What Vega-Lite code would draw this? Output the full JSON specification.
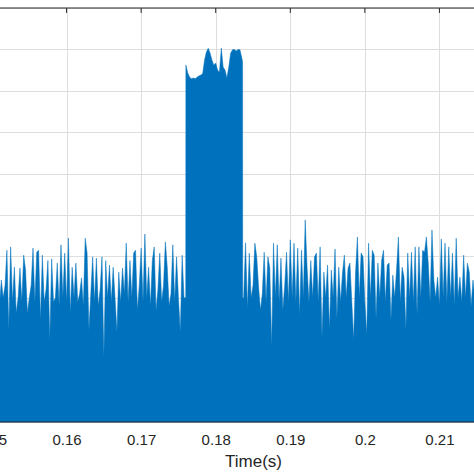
{
  "$schema": "https://vega.github.io/schema/vega-lite/v6.json",
  "width": 522,
  "height": 414,
  "autosize": "none",
  "padding": {"left": -8, "top": 8, "right": 0, "bottom": 52},
  "background": "white",
  "datasets": {
    "signal": [
      {"t":0.149,"v":0.30},{"t":0.14925,"v":0.38},{"t":0.1495,"v":0.29},{"t":0.14975,"v":0.41},
      {"t":0.15,"v":0.27},{"t":0.15025,"v":0.36},{"t":0.1505,"v":0.30},{"t":0.15075,"v":0.40},
      {"t":0.151,"v":0.28},{"t":0.15125,"v":0.343},{"t":0.1515,"v":0.30},{"t":0.15175,"v":0.33},
      {"t":0.152,"v":0.415},{"t":0.15225,"v":0.222},{"t":0.1525,"v":0.423},{"t":0.15275,"v":0.29},
      {"t":0.153,"v":0.374},{"t":0.15325,"v":0.263},{"t":0.1535,"v":0.30},{"t":0.15375,"v":0.372},
      {"t":0.154,"v":0.29},{"t":0.15425,"v":0.403},{"t":0.1545,"v":0.367},{"t":0.15475,"v":0.263},
      {"t":0.155,"v":0.30},{"t":0.15525,"v":0.33},{"t":0.1555,"v":0.42},{"t":0.15575,"v":0.29},
      {"t":0.156,"v":0.41},{"t":0.15625,"v":0.415},{"t":0.1565,"v":0.246},{"t":0.15675,"v":0.403},
      {"t":0.157,"v":0.29},{"t":0.15725,"v":0.32},{"t":0.1575,"v":0.39},{"t":0.15775,"v":0.198},
      {"t":0.158,"v":0.394},{"t":0.15825,"v":0.29},{"t":0.1585,"v":0.30},{"t":0.15875,"v":0.384},
      {"t":0.159,"v":0.28},{"t":0.15925,"v":0.428},{"t":0.1595,"v":0.30},{"t":0.15975,"v":0.408},
      {"t":0.16,"v":0.29},{"t":0.16025,"v":0.444},{"t":0.1605,"v":0.263},{"t":0.16075,"v":0.374},
      {"t":0.161,"v":0.30},{"t":0.16125,"v":0.384},{"t":0.1615,"v":0.29},{"t":0.16175,"v":0.31},
      {"t":0.162,"v":0.348},{"t":0.16225,"v":0.28},{"t":0.1625,"v":0.444},{"t":0.16275,"v":0.408},
      {"t":0.163,"v":0.222},{"t":0.16325,"v":0.31},{"t":0.1635,"v":0.399},{"t":0.16375,"v":0.29},
      {"t":0.164,"v":0.396},{"t":0.16425,"v":0.28},{"t":0.1645,"v":0.32},{"t":0.16475,"v":0.399},
      {"t":0.165,"v":0.157},{"t":0.16525,"v":0.39},{"t":0.1655,"v":0.30},{"t":0.16575,"v":0.379},
      {"t":0.166,"v":0.29},{"t":0.16625,"v":0.374},{"t":0.1665,"v":0.30},{"t":0.16675,"v":0.217},
      {"t":0.167,"v":0.362},{"t":0.16725,"v":0.29},{"t":0.1675,"v":0.372},{"t":0.16775,"v":0.31},
      {"t":0.168,"v":0.432},{"t":0.16825,"v":0.29},{"t":0.1685,"v":0.39},{"t":0.16875,"v":0.30},
      {"t":0.169,"v":0.408},{"t":0.16925,"v":0.415},{"t":0.1695,"v":0.27},{"t":0.16975,"v":0.33},
      {"t":0.17,"v":0.42},{"t":0.17025,"v":0.29},{"t":0.1705,"v":0.454},{"t":0.17075,"v":0.30},
      {"t":0.171,"v":0.374},{"t":0.17125,"v":0.28},{"t":0.1715,"v":0.39},{"t":0.17175,"v":0.423},
      {"t":0.172,"v":0.27},{"t":0.17225,"v":0.32},{"t":0.1725,"v":0.408},{"t":0.17275,"v":0.29},
      {"t":0.173,"v":0.33},{"t":0.17325,"v":0.435},{"t":0.1735,"v":0.374},{"t":0.17375,"v":0.28},
      {"t":0.174,"v":0.31},{"t":0.17425,"v":0.428},{"t":0.1745,"v":0.29},{"t":0.17475,"v":0.399},
      {"t":0.175,"v":0.30},{"t":0.17525,"v":0.217},{"t":0.1755,"v":0.403},{"t":0.17575,"v":0.30},
      {"t":0.17598,"v":0.30},
      {"t":0.176,"v":0.862},{"t":0.17625,"v":0.843},{"t":0.1765,"v":0.833},{"t":0.17675,"v":0.829},
      {"t":0.177,"v":0.831},{"t":0.17725,"v":0.829},{"t":0.1775,"v":0.833},{"t":0.17775,"v":0.836},
      {"t":0.178,"v":0.838},{"t":0.17825,"v":0.841},{"t":0.1785,"v":0.874},{"t":0.17875,"v":0.894},
      {"t":0.179,"v":0.903},{"t":0.17925,"v":0.891},{"t":0.1795,"v":0.874},{"t":0.17975,"v":0.862},
      {"t":0.18,"v":0.867},{"t":0.18025,"v":0.85},{"t":0.1805,"v":0.845},{"t":0.18075,"v":0.903},
      {"t":0.181,"v":0.857},{"t":0.18125,"v":0.85},{"t":0.1815,"v":0.831},{"t":0.18175,"v":0.857},
      {"t":0.182,"v":0.891},{"t":0.18225,"v":0.899},{"t":0.1825,"v":0.90},{"t":0.18275,"v":0.896},
      {"t":0.183,"v":0.90},{"t":0.18325,"v":0.899},{"t":0.1835,"v":0.879},{"t":0.1836,"v":0.87},
      {"t":0.18362,"v":0.30},
      {"t":0.18375,"v":0.30},{"t":0.184,"v":0.433},{"t":0.18425,"v":0.275},{"t":0.1845,"v":0.408},
      {"t":0.18475,"v":0.30},{"t":0.185,"v":0.33},{"t":0.18525,"v":0.432},{"t":0.1855,"v":0.399},
      {"t":0.18575,"v":0.326},{"t":0.186,"v":0.27},{"t":0.18625,"v":0.31},{"t":0.1865,"v":0.41},
      {"t":0.18675,"v":0.29},{"t":0.187,"v":0.399},{"t":0.18725,"v":0.372},{"t":0.1875,"v":0.181},
      {"t":0.18775,"v":0.432},{"t":0.188,"v":0.30},{"t":0.18825,"v":0.428},{"t":0.1885,"v":0.29},
      {"t":0.18875,"v":0.396},{"t":0.189,"v":0.27},{"t":0.18925,"v":0.33},{"t":0.1895,"v":0.41},
      {"t":0.18975,"v":0.29},{"t":0.19,"v":0.44},{"t":0.19025,"v":0.30},{"t":0.1905,"v":0.432},
      {"t":0.19075,"v":0.29},{"t":0.191,"v":0.42},{"t":0.19125,"v":0.258},{"t":0.1915,"v":0.415},
      {"t":0.19175,"v":0.30},{"t":0.192,"v":0.488},{"t":0.19225,"v":0.374},{"t":0.1925,"v":0.29},
      {"t":0.19275,"v":0.39},{"t":0.193,"v":0.30},{"t":0.19325,"v":0.399},{"t":0.1935,"v":0.408},
      {"t":0.19375,"v":0.29},{"t":0.194,"v":0.423},{"t":0.19425,"v":0.203},{"t":0.1945,"v":0.362},
      {"t":0.19475,"v":0.30},{"t":0.195,"v":0.379},{"t":0.19525,"v":0.222},{"t":0.1955,"v":0.367},
      {"t":0.19575,"v":0.30},{"t":0.196,"v":0.418},{"t":0.19625,"v":0.25},{"t":0.1965,"v":0.374},
      {"t":0.19675,"v":0.29},{"t":0.197,"v":0.36},{"t":0.19725,"v":0.403},{"t":0.1975,"v":0.30},
      {"t":0.19775,"v":0.372},{"t":0.198,"v":0.384},{"t":0.19825,"v":0.29},{"t":0.1985,"v":0.198},
      {"t":0.19875,"v":0.36},{"t":0.199,"v":0.447},{"t":0.19925,"v":0.30},{"t":0.1995,"v":0.408},
      {"t":0.19975,"v":0.399},{"t":0.2,"v":0.29},{"t":0.20025,"v":0.21},{"t":0.2005,"v":0.432},
      {"t":0.20075,"v":0.30},{"t":0.201,"v":0.415},{"t":0.20125,"v":0.403},{"t":0.2015,"v":0.25},
      {"t":0.20175,"v":0.384},{"t":0.202,"v":0.30},{"t":0.20225,"v":0.39},{"t":0.2025,"v":0.415},
      {"t":0.20275,"v":0.29},{"t":0.203,"v":0.379},{"t":0.20325,"v":0.384},{"t":0.2035,"v":0.246},
      {"t":0.20375,"v":0.355},{"t":0.204,"v":0.30},{"t":0.20425,"v":0.367},{"t":0.2045,"v":0.447},
      {"t":0.20475,"v":0.29},{"t":0.205,"v":0.374},{"t":0.20525,"v":0.35},{"t":0.2055,"v":0.222},
      {"t":0.20575,"v":0.408},{"t":0.206,"v":0.30},{"t":0.20625,"v":0.41},{"t":0.2065,"v":0.29},
      {"t":0.20675,"v":0.423},{"t":0.207,"v":0.26},{"t":0.20725,"v":0.423},{"t":0.2075,"v":0.30},
      {"t":0.20775,"v":0.415},{"t":0.208,"v":0.41},{"t":0.20825,"v":0.447},{"t":0.2085,"v":0.384},
      {"t":0.20875,"v":0.29},{"t":0.209,"v":0.464},{"t":0.20925,"v":0.343},{"t":0.2095,"v":0.30},
      {"t":0.20975,"v":0.35},{"t":0.21,"v":0.28},{"t":0.21025,"v":0.442},{"t":0.2105,"v":0.30},
      {"t":0.21075,"v":0.432},{"t":0.211,"v":0.29},{"t":0.21125,"v":0.423},{"t":0.2115,"v":0.30},
      {"t":0.21175,"v":0.408},{"t":0.212,"v":0.28},{"t":0.21225,"v":0.444},{"t":0.2125,"v":0.30},
      {"t":0.21275,"v":0.35},{"t":0.213,"v":0.29},{"t":0.21325,"v":0.403},{"t":0.2135,"v":0.30},
      {"t":0.21375,"v":0.384},{"t":0.214,"v":0.362},{"t":0.21425,"v":0.28},{"t":0.2145,"v":0.343},
      {"t":0.21475,"v":0.30},{"t":0.215,"v":0.38},{"t":0.21525,"v":0.29},{"t":0.2155,"v":0.36},
      {"t":0.21575,"v":0.30},{"t":0.216,"v":0.39}
    ],
    "ticks": [
      {"t":0.15},{"t":0.16},{"t":0.17},{"t":0.18},{"t":0.19},{"t":0.2},{"t":0.21},{"t":0.22}
    ],
    "frame": [{"edge": "box"}]
  },
  "config": {
    "view": {"stroke": null},
    "axis": {"labelFont": "Liberation Sans", "titleFont": "Liberation Sans"}
  },
  "layer": [
    {
      "data": {"name": "signal"},
      "mark": {"type": "area", "color": "#0072BD", "stroke": "#0072BD", "strokeWidth": 0.5},
      "encoding": {
        "x": {
          "field": "t",
          "type": "quantitative",
          "scale": {"domain": [0.15, 0.22], "nice": false, "zero": false},
          "axis": {
            "title": "Time(s)",
            "values": [0.15, 0.16, 0.17, 0.18, 0.19, 0.2, 0.21, 0.22],
            "format": ".2~g",
            "grid": true,
            "gridColor": "#dedede",
            "domain": false,
            "ticks": false,
            "labelFlush": false,
            "labelOverlap": false,
            "labelFontSize": 15,
            "labelColor": "#262626",
            "labelPadding": 10,
            "titleFontSize": 17,
            "titleFontWeight": "normal",
            "titleColor": "#262626",
            "titlePadding": 6
          }
        },
        "y": {
          "field": "v",
          "type": "quantitative",
          "scale": {"domain": [0, 1], "nice": false},
          "axis": {
            "values": [0, 0.1, 0.2, 0.3, 0.4, 0.5, 0.6, 0.7, 0.8, 0.9, 1],
            "grid": true,
            "gridColor": "#dedede",
            "labels": false,
            "ticks": false,
            "domain": false,
            "title": null
          }
        }
      }
    },
    {
      "data": {"name": "ticks"},
      "mark": {"type": "rule", "color": "#262626", "strokeWidth": 1},
      "encoding": {
        "x": {"field": "t", "type": "quantitative"},
        "y": {"datum": 1},
        "y2": {"datum": 0.988}
      }
    },
    {
      "data": {"name": "frame"},
      "mark": {"type": "rule", "color": "#262626", "strokeWidth": 1},
      "encoding": {"y": {"datum": 1}}
    },
    {
      "data": {"name": "frame"},
      "mark": {"type": "rule", "color": "#262626", "strokeWidth": 1},
      "encoding": {"y": {"datum": 0}}
    }
  ]
}
